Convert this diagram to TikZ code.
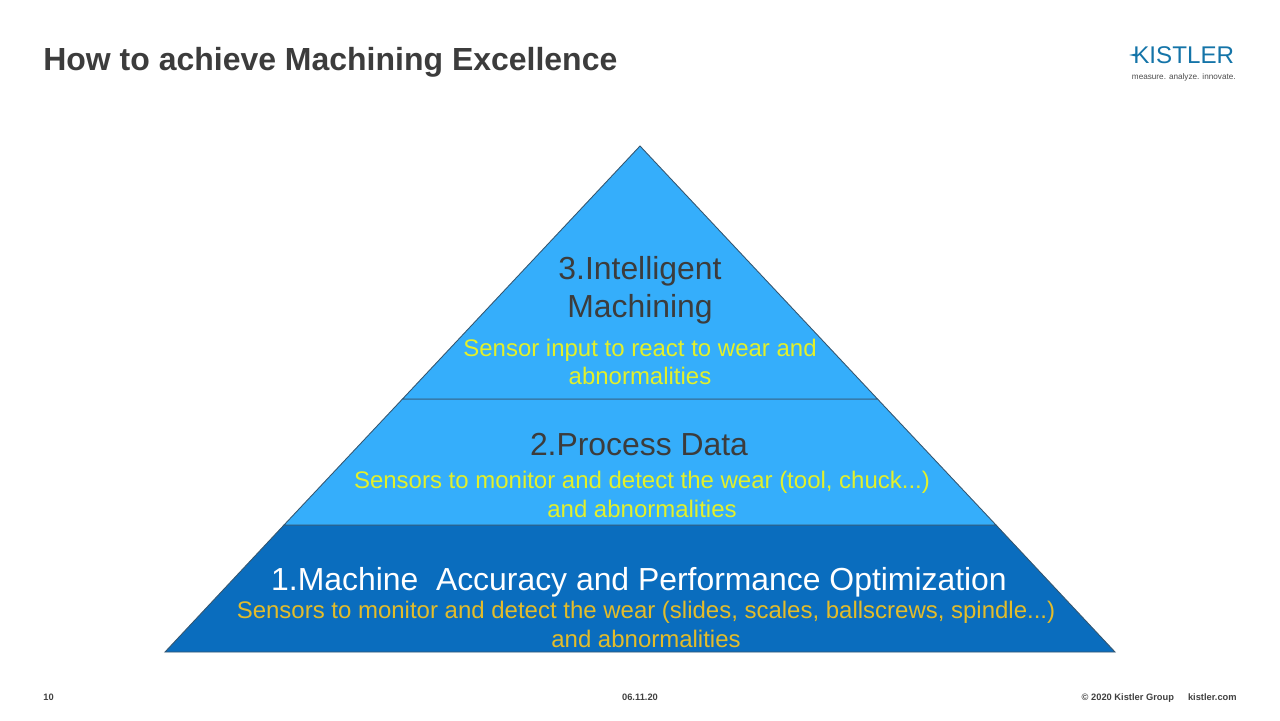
\documentclass[tikz,border=0pt]{standalone}
\usepackage{fontspec}
\setmainfont{Liberation Sans}
\definecolor{lightband}{HTML}{35AEFB}
\definecolor{darkband}{HTML}{0A6DBE}
\definecolor{edgeline}{HTML}{35566F}
\definecolor{titlegrey}{HTML}{3C3C3C}
\definecolor{subyellow}{HTML}{E3F02A}
\definecolor{subgold}{HTML}{E3BC2A}
\definecolor{logoblue}{HTML}{1474A8}
\tikzset{
  x=0.02cm, y=-0.02cm,
  band/.style={draw=edgeline, line width=0.5pt},
  levelhead/.style={align=center, inner sep=0pt, font=\fontsize{18.15}{21.6}\selectfont},
  levelsub/.style={align=center, inner sep=0pt, font=\fontsize{13.65}{16.2}\selectfont},
  footer/.style={inner sep=0pt, text=black!75, font=\fontsize{5.3}{6}\selectfont\bfseries},
}
\begin{document}
\begin{tikzpicture}
  \useasboundingbox (0, 0) rectangle (1280, 720);

  % Title
  \node (title) [anchor=west, inner sep=0pt, text=titlegrey, font=\fontsize{18.2}{22}\selectfont\bfseries] at (43, 62) {How to achieve Machining Excellence};

  % Logo
  \node (logo) [anchor=west, inner sep=0pt, text=logoblue, font=\fontsize{13.75}{16}\selectfont] at (1133, 55) {KISTLER};
  \coordinate (logotip) at (1129, 55);
  \fill [logoblue] (logotip) -- (1136, 53.5) -- (1136, 56.5) -- cycle;
  \node (slogan) [anchor=east, inner sep=0pt, text=black!70, font=\fontsize{4.65}{6}\selectfont] at (1236, 77) {measure. analyze. innovate.};

  % Pyramid
  \draw [band, fill=darkband] (284, 525) -- (996, 525) -- (1115, 652) -- (165, 652) -- cycle;
  \draw [band, fill=lightband] (402.5, 399) -- (877.5, 399) -- (996, 525) -- (284, 525) -- cycle;
  \draw [band, fill=lightband] (640, 146) -- (877.5, 399) -- (402.5, 399) -- cycle;

  % Level 3
  \node (headthree) [levelhead, text=titlegrey] at (640, 290) {3.Intelligent\\Machining};
  \node (subthree) [levelsub, text=subyellow] at (640, 362) {Sensor input to react to wear and\\abnormalities};

  % Level 2
  \node (headtwo) [levelhead, text=titlegrey] at (639, 445) {2.Process Data};
  \node (subtwo) [levelsub, text=subyellow] at (642, 494.5) {Sensors to monitor and detect the wear (tool, chuck...)\\and abnormalities};

  % Level 1
  \node (headone) [levelhead, text=white] at (639, 582) {1.Machine\ \ Accuracy and Performance Optimization};
  \node (subone) [levelsub, text=subgold] at (646, 624.5) {Sensors to monitor and detect the wear (slides, scales, ballscrews, spindle...)\\and abnormalities};

  % Footer
  \node (pagenum) [footer, anchor=base west] at (43, 700) {10};
  \node (date) [footer, anchor=base] at (640, 700) {06.11.20};
  \node (copyright) [footer, anchor=base east] at (1237, 700) {© 2020 Kistler Group\hspace{8pt}kistler.com};
\end{tikzpicture}
\end{document}
